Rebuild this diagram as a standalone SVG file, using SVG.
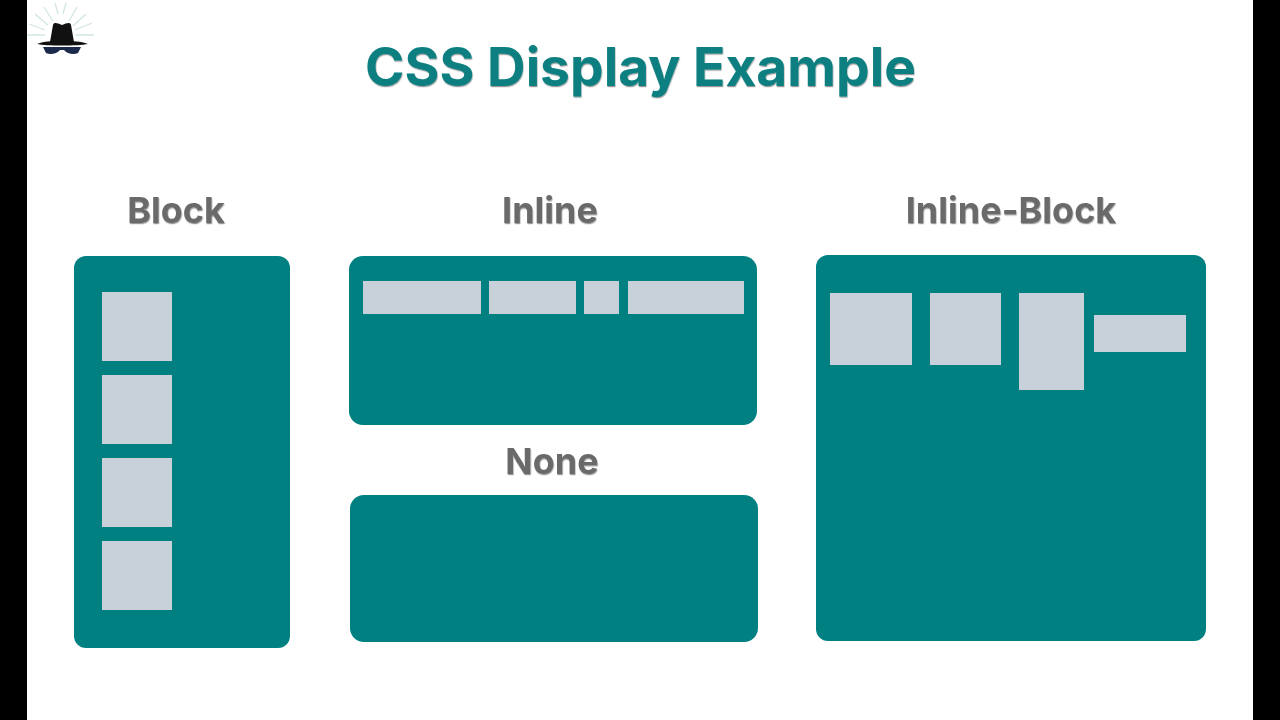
<svg xmlns="http://www.w3.org/2000/svg" width="1280" height="720" viewBox="0 0 1280 720">
<defs><filter id="sh" x="-5%" y="-10%" width="110%" height="125%"><feDropShadow dx="0.5" dy="1.2" stdDeviation="0.5" flood-color="#000" flood-opacity="0.4"/></filter></defs>
<style>
.panel{fill:#008080}
.box{fill:#c8d0da}
.h{font-family:Inter,"Liberation Sans",sans-serif;font-weight:700;font-size:36px;fill:#6a6a6a;text-anchor:middle;filter:url(#sh)}
.t{font-family:Inter,"Liberation Sans",sans-serif;font-weight:700;font-size:53.4px;fill:#0b7f80;text-anchor:middle;filter:url(#sh)}
</style>
<rect width="1280" height="720" fill="#fff"/>
<rect x="0" y="0" width="27" height="720" fill="#000"/>
<rect x="1253" y="0" width="27" height="720" fill="#000"/>
<g id="logo">
<path d="M55 3L58 14M66 3L63 14M44 7L53 21M77 7L69 21M35 14L48 25M86 14L73 26M29 24L45 30M92 23L75 30M27 35H45M94 35H75" stroke="#d2e6df" stroke-width="1.3" fill="none"/>
<path d="M50 42L53 25C54 22 57 23 62 25C67 23 70 22 71 25L74 42Z" fill="#111"/>
<path d="M37 44C45 41 50 41 62 41C74 41 80 41 88 44C78 46 46 46 37 44Z" fill="#111"/>
<path d="M43 47H81L78 53C74 55 67 54 64 50H60C57 54 50 55 46 53Z" fill="#1b2a4a"/>
</g>
<text class="t" x="640.500" y="86">CSS Display Example</text>
<g id="block">
<text class="h" x="176" y="223">Block</text>
<rect class="panel" x="74" y="256" width="216" height="392" rx="12"/>
<rect class="box" x="102" y="292" width="70" height="69"/>
<rect class="box" x="102" y="375" width="70" height="69"/>
<rect class="box" x="102" y="458" width="70" height="69"/>
<rect class="box" x="102" y="541" width="70" height="69"/>
</g>
<g id="inline">
<text class="h" x="550" y="223">Inline</text>
<rect class="panel" x="349" y="256" width="408" height="169" rx="14"/>
<rect class="box" x="363" y="281" width="118" height="33"/>
<rect class="box" x="489" y="281" width="87" height="33"/>
<rect class="box" x="584" y="281" width="35" height="33"/>
<rect class="box" x="628" y="281" width="116" height="33"/>
</g>
<g id="none">
<text class="h" x="552" y="474">None</text>
<rect class="panel" x="350" y="495" width="408" height="147" rx="14"/>
</g>
<g id="inline-block">
<text class="h" x="1011" y="223">Inline-Block</text>
<rect class="panel" x="816" y="255" width="390" height="386" rx="12"/>
<rect class="box" x="830" y="293" width="82" height="72"/>
<rect class="box" x="930" y="293" width="71" height="72"/>
<rect class="box" x="1019" y="293" width="65" height="97"/>
<rect class="box" x="1094" y="315" width="92" height="37"/>
</g>
<g id="connectors"/>
</svg>
